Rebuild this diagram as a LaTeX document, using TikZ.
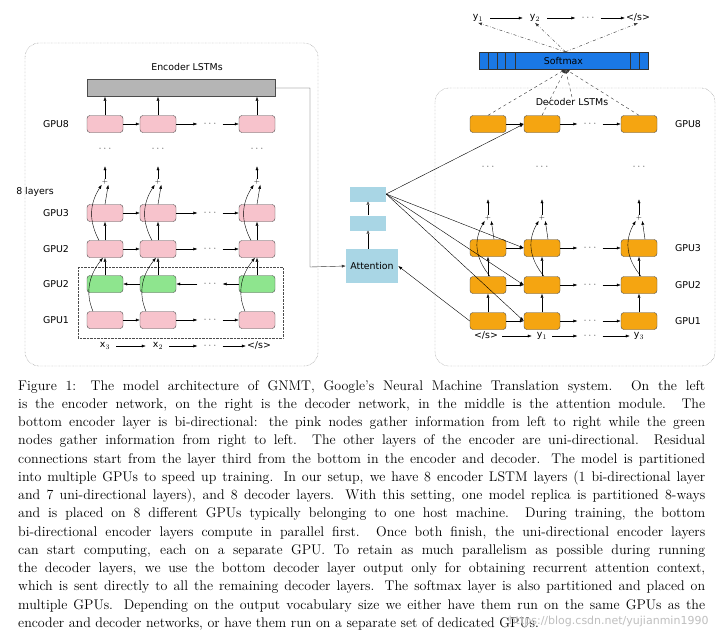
\documentclass[tikz,border=0pt]{standalone}
\usepackage{fontspec}
\newfontfamily\sansf{DejaVu Sans}
\usetikzlibrary{arrows.meta}
\definecolor{pinkc}{HTML}{F7C3CC}
\definecolor{greenc}{HTML}{8EE58E}
\definecolor{orangec}{HTML}{F5A511}
\definecolor{bluec}{HTML}{1A78E6}
\definecolor{lblue}{HTML}{A9D6E5}
\definecolor{grayc}{HTML}{B5B5B5}
\begin{document}
\begin{tikzpicture}[x=1pt,y=-1pt,
  cell/.style={draw=black!70,rounded corners=3pt,minimum width=36pt,minimum height=17pt,inner sep=0pt},
  enc/.style={cell,fill=pinkc},
  encg/.style={cell,fill=greenc},
  dec/.style={cell,fill=orangec},
  lab/.style={font=\sansf\fontsize{9.4}{10}\selectfont,inner sep=1pt},
  arr/.style={-{Latex[length=4pt,width=3pt]},black},
  dots/.style={font=\fontsize{11}{11}\selectfont,text=black!65,inner sep=0pt},
  frame/.style={draw=black!60,densely dotted,rounded corners=14pt}]
\useasboundingbox (0,0) rectangle (720,641);
\fill[white] (0,0) rectangle (720,641);
% ---------------- Encoder ----------------
\draw[frame] (25,43) rectangle (318,366);
\node[lab] (enclab) at (187,67) {Encoder LSTMs};
\node[draw=black!70,fill=grayc,minimum width=188pt,minimum height=17pt,inner sep=0pt] (egray) at (181,88) {};
\draw[densely dotted,black!70] (78,267) rectangle (283,338);
\foreach \c/\x in {1/105,2/158,3/257}{
  \node[enc] (e8\c) at (\x,124) {};
  \node[dots] (ed\c) at (\x,149) {$\cdots$};
  \node[inner sep=0pt,font=\scriptsize] (ep\c) at (\x,182) {+};
  \node[enc] (e3\c) at (\x,213) {};
  \node[enc] (e2\c) at (\x,249) {};
  \node[encg] (eg\c) at (\x,284) {};
  \node[enc] (e1\c) at (\x,320) {};
  \draw[arr] (e8\c.north) -- (e8\c.north|-egray.south);
  \draw[arr] (ep\c.north) -- ++(0,-13);
  \draw[arr] (e3\c.north) -- (ep\c.south east);
  \draw[arr] (e2\c.north) -- (e3\c.south);
  \draw[arr] (eg\c.north) -- (e2\c.south);
  \draw[arr] ([xshift=-6pt]e2\c.north) .. controls ([xshift=-16pt]e3\c.south) and ([xshift=-16pt]e3\c.north) .. (ep\c.south west);
  \draw[arr] ([xshift=-12pt]e1\c.north) .. controls ([xshift=-20pt]eg\c.south) and ([xshift=-16pt]eg\c.north) .. ([xshift=-2pt]e2\c.south);
}
\foreach \r in {8,3,2,1}{
  \node[dots] (eh\r) at (210,0|-e\r1) {$\cdots$};
  \draw[arr] (e\r1.east) -- (e\r2.west);
  \draw[arr] (e\r2.east) -- ([xshift=-6pt]eh\r.west);
  \draw[arr] ([xshift=6pt]eh\r.east) -- (e\r3.west);
}
\node[dots] (ehg) at (210,284) {$\cdots$};
\draw[arr] (eg3.west) -- ([xshift=6pt]ehg.east);
\draw[arr] ([xshift=-6pt]ehg.west) -- (eg2.east);
\draw[arr] (eg2.west) -- (eg1.east);
\node[lab] at (56,124) {GPU8};
\node[lab] at (56,213) {GPU3};
\node[lab] at (56,249) {GPU2};
\node[lab] at (56,284) {GPU2};
\node[lab] at (56,320) {GPU1};
\node[lab] at (35,192) {8 layers};
\node[lab] (x3) at (105,346) {x$_3$};
\node[lab] (x2) at (158,346) {x$_2$};
\node[dots] (xd) at (210,346) {$\cdots$};
\node[lab] (xs) at (259,346) {</s>};
\draw[arr] (x3.east) ++(5,0) -- ([xshift=-6pt]x2.west);
\draw[arr] (x2.east) ++(5,0) -- ([xshift=-6pt]xd.west);
\draw[arr] ([xshift=6pt]xd.east) -- (xs.west);
% ---------------- Attention ----------------
\node[fill=lblue,minimum width=52pt,minimum height=34pt,inner sep=0pt,font=\sansf\fontsize{9.4}{10}\selectfont] (att) at (372,266) {Attention};
\node[fill=lblue,minimum width=36pt,minimum height=15pt,inner sep=0pt] (a2) at (368,223) {};
\node[fill=lblue,minimum width=36pt,minimum height=15pt,inner sep=0pt] (a3) at (368,194) {};
\draw[-{Triangle[open,length=3pt,width=3pt]}] (att.north-|a2) -- (a2.south);
\draw[-{Triangle[open,length=3pt,width=3pt]}] (a2.north) -- (a3.south);
\coordinate (g1) at (310,88);
\coordinate (g2) at (310,267);
\draw[arr,black!80] (egray.east) -- (g1) -- (g2) -- (att.west);
% ---------------- Decoder ----------------
\draw[frame] (435,88) rectangle (715,366);
\foreach \c/\x in {1/488,2/542,3/639}{
  \node[dec] (d8\c) at (\x,124) {};
  \node[dots] (dd\c) at (\x,167) {$\cdots$};
  \node[inner sep=0pt,font=\scriptsize] (dp\c) at (\x,218) {+};
  \node[dec] (d3\c) at (\x,248) {};
  \node[dec] (d2\c) at (\x,285) {};
  \node[dec] (d1\c) at (\x,321) {};
  \draw[arr] (dp\c.north) -- ++(0,-16);
  \draw[arr] ([xshift=6pt]d3\c.north) -- (dp\c.south east);
  \draw[arr] (d2\c.north) -- (d3\c.south);
  \draw[arr] (d1\c.north) -- (d2\c.south);
  \draw[arr] ([xshift=2pt]d2\c.north) .. controls ([xshift=-14pt]d3\c.south) and ([xshift=-14pt]d3\c.north) .. (dp\c.south west);
}
\node[lab] (declab) at (572,102) {Decoder LSTMs};
\foreach \r in {8,3,2,1}{
  \node[dots] (dh\r) at (590,0|-d\r1) {$\cdots$};
  \draw[arr] (d\r1.east) -- (d\r2.west);
  \draw[arr] (d\r2.east) -- ([xshift=-6pt]dh\r.west);
  \draw[arr] ([xshift=6pt]dh\r.east) -- (d\r3.west);
}
\node[lab] at (688,124) {GPU8};
\node[lab] at (688,248) {GPU3};
\node[lab] at (688,285) {GPU2};
\node[lab] at (688,321) {GPU1};
\node[lab] (ys) at (486,336) {</s>};
\node[lab] (y1) at (542,336) {y$_1$};
\node[dots] (yd) at (590,336) {$\cdots$};
\node[lab] (y3) at (639,336) {y$_3$};
\draw[arr] (ys.east) ++(3,0) -- ([xshift=-4pt]y1.west);
\draw[arr] (y1.east) ++(4,0) -- ([xshift=-6pt]yd.west);
\draw[arr] ([xshift=6pt]yd.east) -- ([xshift=-3pt]y3.west);
\draw[arr] (a3.east) -- (d82.west);
\draw[arr] (a3.east) -- (d32.west);
\draw[arr] (a3.east) -- (d22.west);
\draw[arr] (a3.east) -- (d12.west);
\draw[arr] (d11.west) -- (att.east);
% ---------------- Softmax ----------------
\node[draw=black!80,fill=bluec,minimum width=169pt,minimum height=17pt,inner sep=0pt,font=\sansf\fontsize{9.4}{10}\selectfont] (soft) at (563.5,60.5) {Softmax};
\foreach \vx in {488,497,505,515,630,639}{
  \draw[black!80] (\vx,52) -- (\vx,69);
}
\foreach \c in {1,2,3}{
  \draw[arr,dashed,black!80] (d8\c.north) -- ([xshift=2pt]soft.south);
}
\draw[arr,dashed,black!80] (declab.north) -- ([xshift=2pt]soft.south);
\node[lab] (o1) at (478,18) {y$_1$};
\node[lab] (o2) at (535,18) {y$_2$};
\node[dots] (od) at (588,18) {$\cdots$};
\node[lab] (os) at (638,18) {</s>};
\draw[arr] (o1.east) ++(6,0) -- ([xshift=-6pt]o2.west);
\draw[arr] (o2.east) ++(6,0) -- ([xshift=-6pt]od.west);
\draw[arr] ([xshift=6pt]od.east) -- (os.west);
\foreach \o in {o1,o2,os}{
  \draw[arr,dash dot,black!80] ([xshift=2pt]soft.north) -- (\o.south);
}
% ---------------- Caption ----------------
\node[anchor=north west,inner sep=0pt,text width=687pt,align=justify,font=\fontsize{14}{18.25}\selectfont] (cap) at (18,380) {%
Figure 1: The model architecture of GNMT, Google’s Neural Machine Translation system. On the left\linebreak
is the encoder network, on the right is the decoder network, in the middle is the attention module. The\linebreak
bottom encoder layer is bi-directional: the pink nodes gather information from left to right while the green\linebreak
nodes gather information from right to left. The other layers of the encoder are uni-directional. Residual\linebreak
connections start from the layer third from the bottom in the encoder and decoder. The model is partitioned\linebreak
into multiple GPUs to speed up training. In our setup, we have 8 encoder LSTM layers (1 bi-directional layer\linebreak
and 7 uni-directional layers), and 8 decoder layers. With this setting, one model replica is partitioned 8-ways\linebreak
and is placed on 8 different GPUs typically belonging to one host machine. During training, the bottom\linebreak
bi-directional encoder layers compute in parallel first. Once both finish, the uni-directional encoder layers\linebreak
can start computing, each on a separate GPU. To retain as much parallelism as possible during running\linebreak
the decoder layers, we use the bottom decoder layer output only for obtaining recurrent attention context,\linebreak
which is sent directly to all the remaining decoder layers. The softmax layer is also partitioned and placed on\linebreak
multiple GPUs. Depending on the output vocabulary size we either have them run on the same GPUs as the\linebreak
encoder and decoder networks, or have them run on a separate set of dedicated GPUs.};
\node[anchor=east,text=black!25,font=\sansf\fontsize{11}{12}\selectfont] (wm) at (712,621) {https://blog.csdn.net/yujianmin1990};
\end{tikzpicture}
\end{document}
